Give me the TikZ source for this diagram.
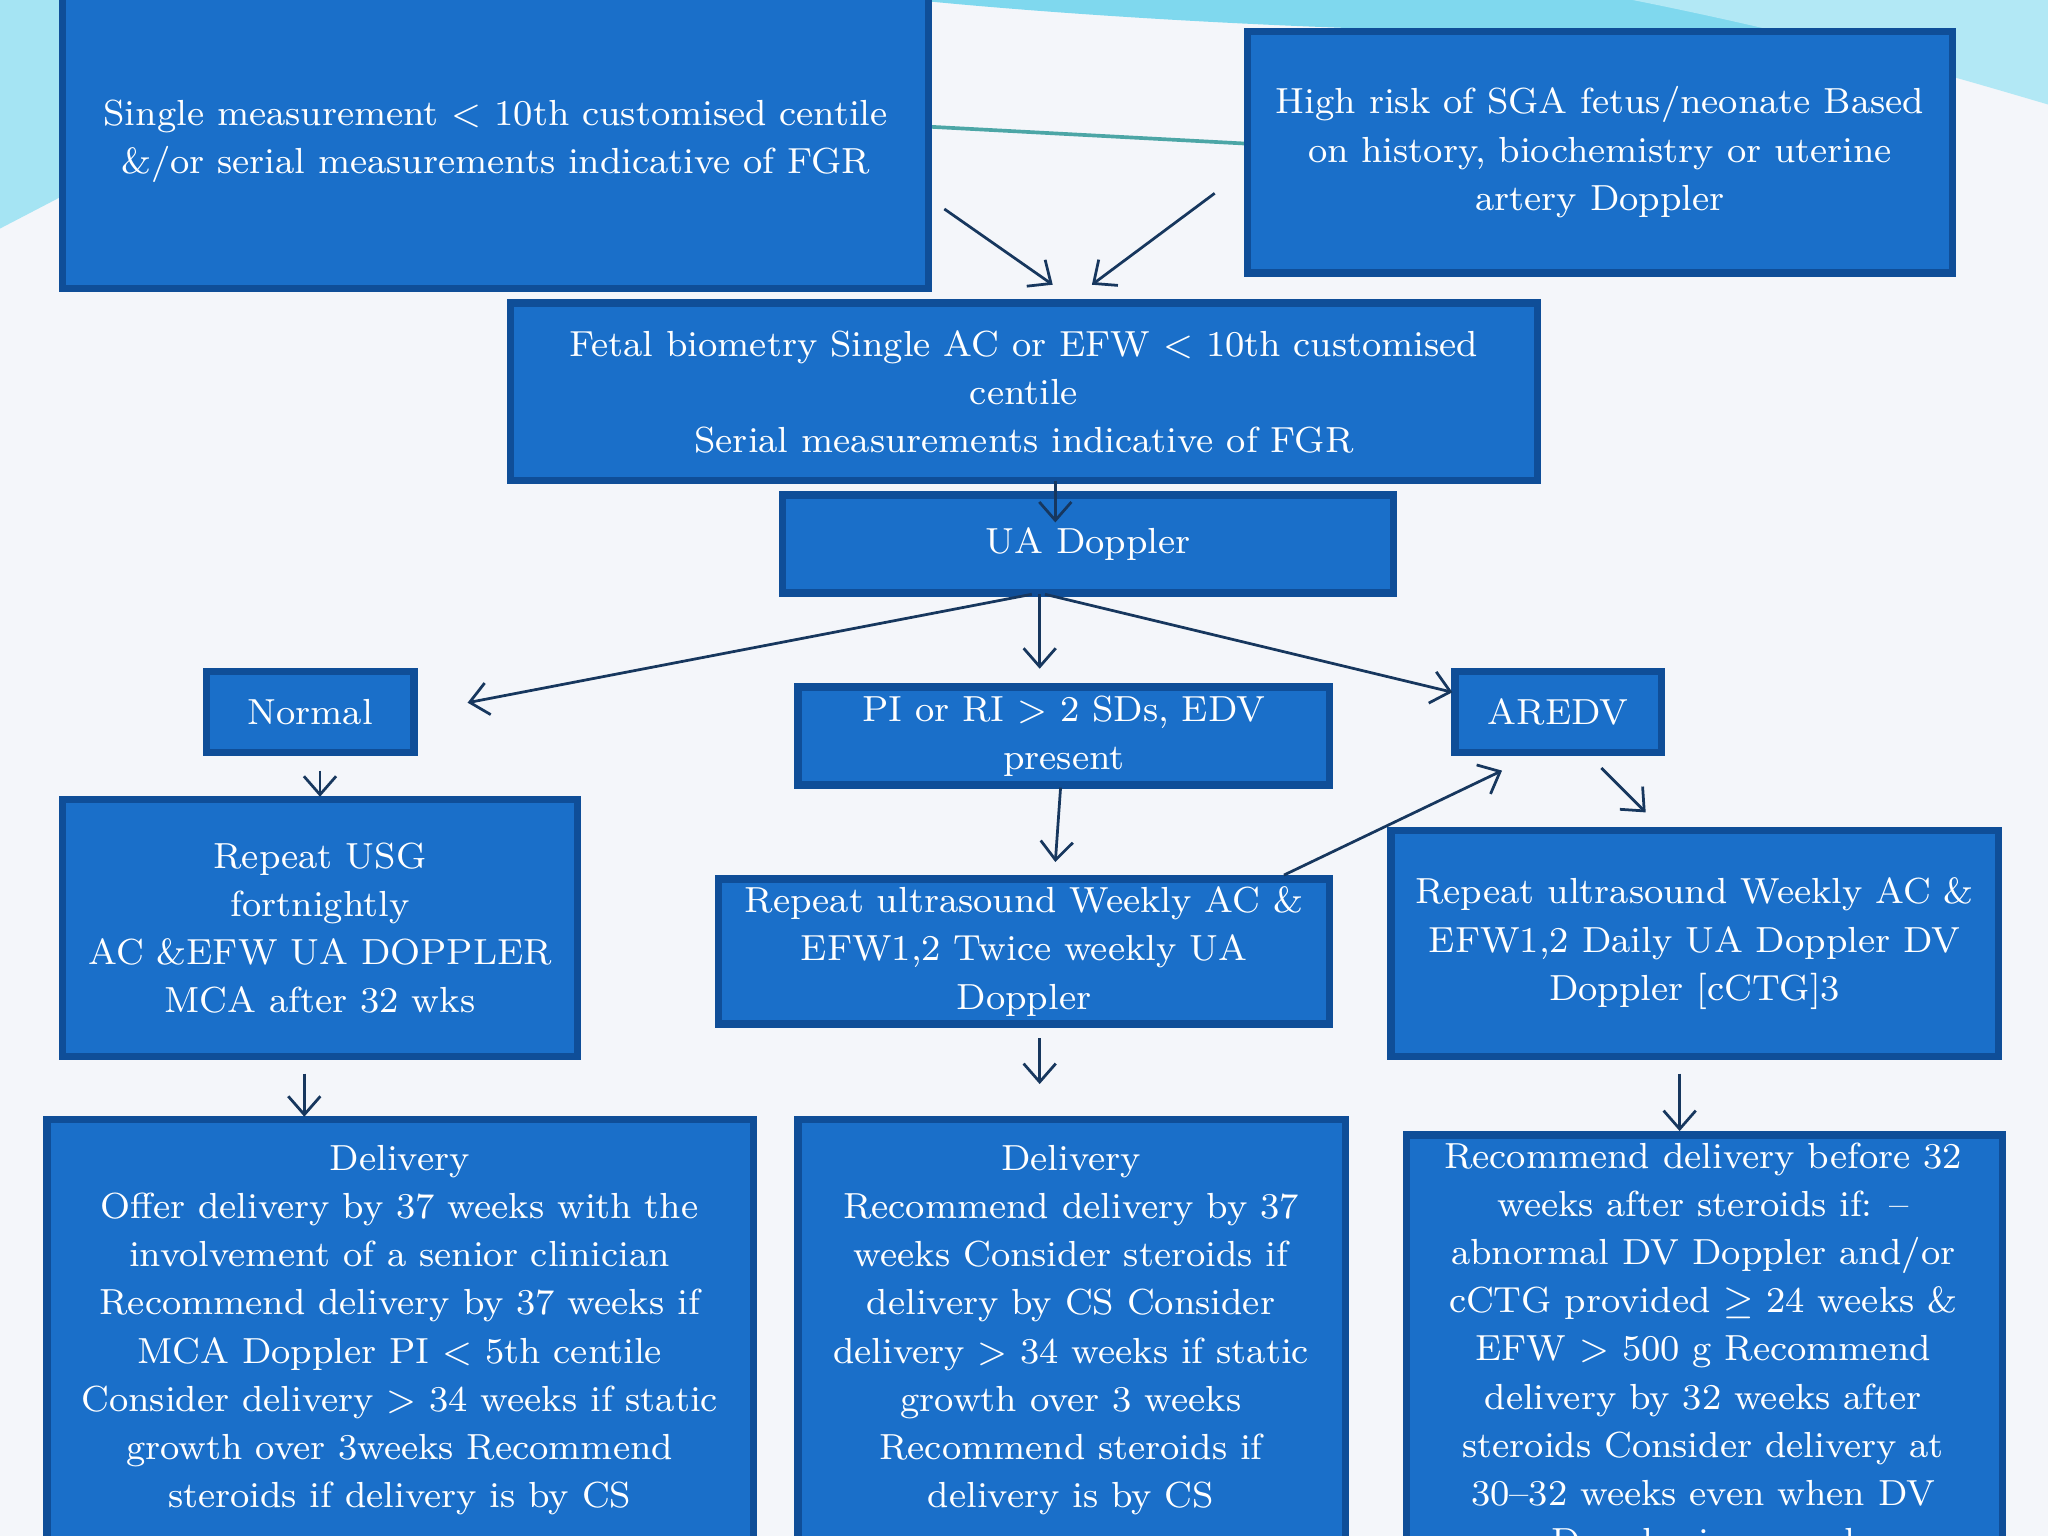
\documentclass[tikz,border=0pt]{standalone}
\usetikzlibrary{arrows.meta}
\definecolor{boxfill}{HTML}{1A6FC9}
\definecolor{boxline}{HTML}{0F4E98}
\definecolor{arr}{HTML}{17375E}
\definecolor{bg}{HTML}{F4F6FA}
\definecolor{wave}{HTML}{7FD8EE}
\begin{document}
\begin{tikzpicture}[x=0.01cm,y=-0.01cm,
  bx/.style={draw=boxline,line width=1.6pt,fill=boxfill,text=white,align=center,inner sep=0pt,font=\fontsize{7.9}{10.5}\selectfont},
  txt/.style={text=white,align=center,inner sep=0pt,font=\fontsize{7.9}{10.5}\selectfont},
  ar/.style={draw=arr,line width=0.6pt,-{Straight Barb[length=4pt,width=7pt]}}]
\useasboundingbox (0,0) rectangle (1568,1176);
\clip (0,0) rectangle (1568,1176);
\fill[bg] (0,0) rectangle (1568,1176);
% top decoration
\fill[wave] (700,0) .. controls (900,20) and (1300,40) .. (1568,10) -- (1568,0) -- cycle;
\fill[wave!60] (1250,0) .. controls (1400,30) and (1500,60) .. (1568,80) -- (1568,0) -- cycle;
\fill[wave!70] (0,0) -- (48,0) -- (48,150) -- (0,175) -- cycle;
\draw[teal!70,line width=0.8pt] (711,97) -- (955,110);
\newcommand\bx[6]{\node[bx,minimum width={(#4-#2)*0.01cm},minimum height={(#5-#3)*0.01cm}] (#1) at ({(#2+#4)/2},{(#3+#5)/2}) {#6};}
\bx{a}{48}{-5}{711}{221}{Single measurement < 10th customised centile\\ \&/or serial measurements indicative of FGR}
\bx{b}{955}{24}{1495}{209}{High risk of SGA fetus/neonate Based\\on history, biochemistry or uterine\\artery Doppler}
\bx{c}{391}{232}{1177}{368}{Fetal biometry Single AC or EFW < 10th customised\\centile\\Serial measurements indicative of FGR}
\bx{d}{599}{379}{1067}{454}{UA Doppler}
\bx{n}{158}{514}{317}{576}{Normal}
\bx{p}{611}{526}{1018}{601}{\raisebox{-6pt}{\parbox{4cm}{\centering PI or RI > 2 SDs, EDV\\present}}}
\bx{e}{1114}{514}{1272}{576}{AREDV}
\bx{r1}{48}{612}{442}{809}{Repeat USG\\fortnightly\\AC \&EFW UA DOPPLER\\MCA after 32 wks}
\bx{r2}{550}{673}{1018}{784}{\raisebox{-5pt}{\parbox{4.6cm}{\centering Repeat ultrasound Weekly AC \&\\EFW1,2 Twice weekly UA\\Doppler}}}
\bx{r3}{1065}{636}{1530}{809}{Repeat ultrasound Weekly AC \&\\EFW1,2 Daily UA Doppler DV\\Doppler [cCTG]3}
\bx{d1}{36}{857}{577}{1200}{}
\bx{d2}{611}{857}{1030}{1200}{}
\bx{d3}{1077}{869}{1533}{1200}{}
\node[txt,anchor=north] (t1) at (306,876) {Delivery\\Offer delivery by 37 weeks with the\\involvement of a senior clinician\\Recommend delivery by 37 weeks if\\MCA Doppler PI < 5th centile\\Consider delivery > 34 weeks if static\\growth over 3weeks Recommend\\steroids if delivery is by CS};
\node[txt,anchor=north] (t2) at (820,876) {Delivery\\Recommend delivery by 37\\weeks Consider steroids if\\delivery by CS Consider\\delivery > 34 weeks if static\\growth over 3 weeks\\Recommend steroids if\\delivery is by CS};
\node[txt,anchor=north] (t3) at (1304,874) {Recommend delivery before 32\\weeks after steroids if: --\\abnormal DV Doppler and/or\\cCTG provided $\geq$ 24 weeks \&\\EFW > 500 g Recommend\\delivery by 32 weeks after\\steroids Consider delivery at\\30--32 weeks even when DV\\Doppler is normal};
% arrows
\coordinate (a1) at (723,160); \coordinate (a2) at (806,218);
\coordinate (b1) at (930,148); \coordinate (b2) at (836,218);
\coordinate (c1) at (808,368); \coordinate (c2) at (808,400);
\coordinate (d1a) at (790,455); \coordinate (n2) at (358,538);
\coordinate (d1b) at (796,455); \coordinate (p2) at (796,512);
\coordinate (d1c) at (800,455); \coordinate (e2) at (1112,530);
\coordinate (n1) at (245,590); \coordinate (r12) at (245,610);
\coordinate (p1) at (812,603); \coordinate (r22) at (808,660);
\coordinate (r21) at (983,670); \coordinate (e3) at (1150,590);
\coordinate (e1) at (1226,588); \coordinate (r32) at (1260,622);
\coordinate (r11) at (233,822); \coordinate (d12) at (233,855);
\coordinate (r2b) at (796,795); \coordinate (d22) at (796,830);
\coordinate (r31) at (1286,822); \coordinate (d32) at (1286,866);
\foreach \s/\t in {a1/a2,b1/b2,c1/c2,d1a/n2,d1b/p2,d1c/e2,n1/r12,p1/r22,r21/e3,e1/r32,r11/d12,r2b/d22,r31/d32}
  \draw[ar] (\s) -- (\t);
\end{tikzpicture}
\end{document}
